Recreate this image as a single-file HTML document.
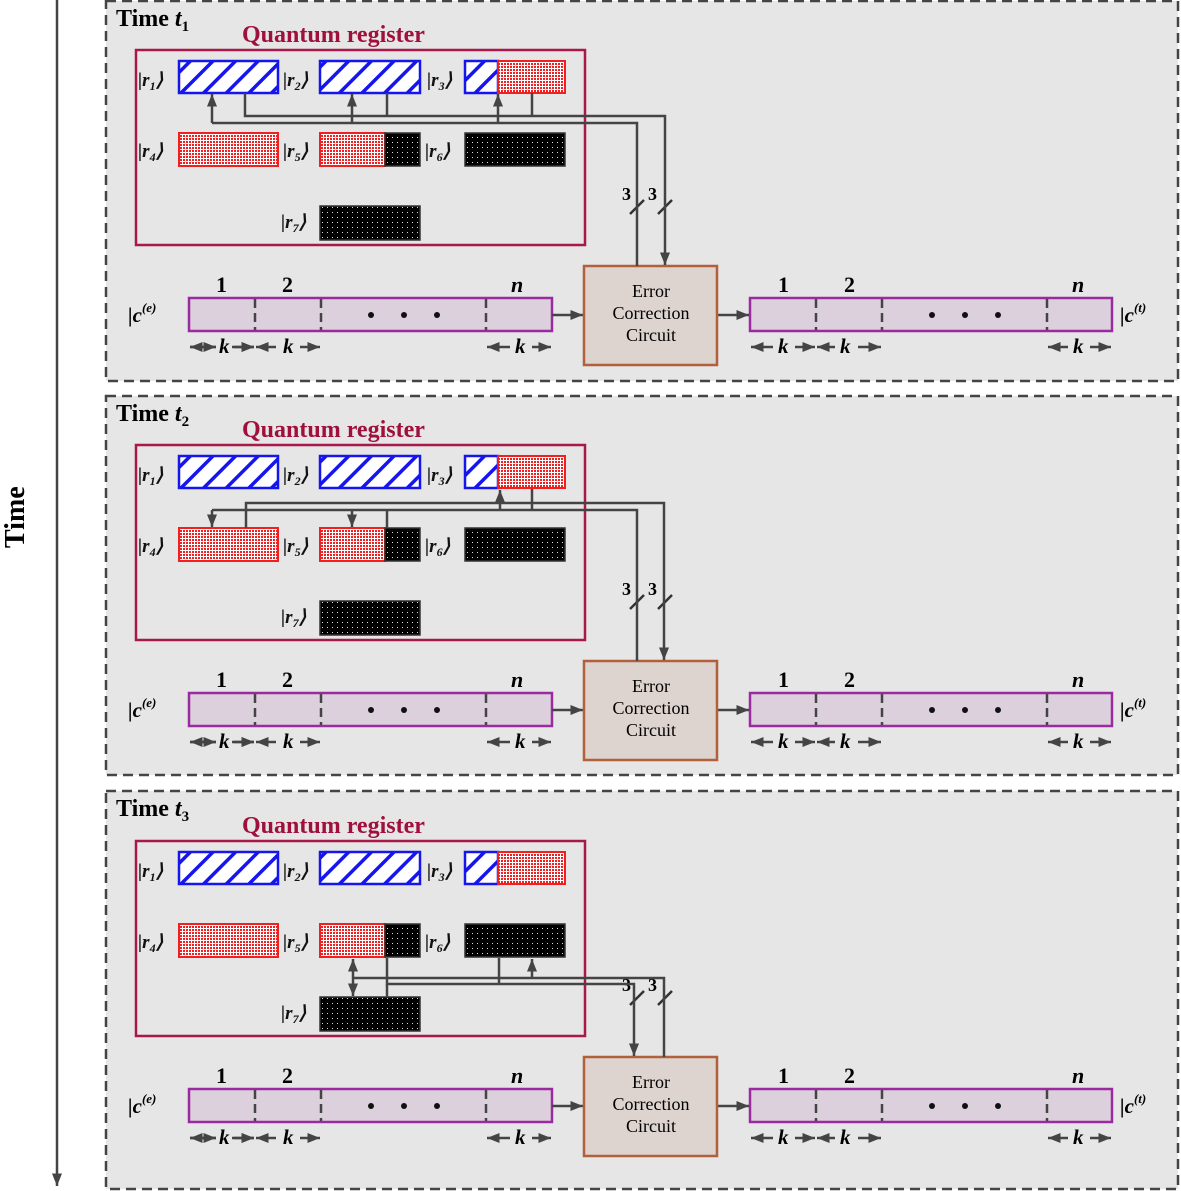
<!DOCTYPE html>
<html><head><meta charset="utf-8"><style>body{margin:0;background:#fff}svg{display:block}text{font-family:"Liberation Serif",serif;font-weight:bold}</style></head><body>
<svg width="1181" height="1191" viewBox="0 0 1181 1191" xmlns="http://www.w3.org/2000/svg">
<defs>
<pattern id="hb" width="16" height="16" patternUnits="userSpaceOnUse" patternTransform="rotate(45)"><rect width="16" height="16" fill="#fff"/><rect width="3.5" height="16" fill="#1515ee"/></pattern>
<pattern id="rg" width="3" height="3" patternUnits="userSpaceOnUse"><rect width="3" height="3" fill="#fff"/><rect width="2" height="2" fill="#f02020"/></pattern>
<pattern id="bd" width="5" height="5" patternUnits="userSpaceOnUse"><rect width="5" height="5" fill="#000"/><rect x="2" y="2" width="1" height="1" fill="#ddd"/></pattern>
<marker id="ar" viewBox="0 0 10 10" refX="10" refY="5" markerWidth="5" markerHeight="5" orient="auto-start-reverse"><path d="M0,1 L10,5 L0,9 z" fill="#444"/></marker>
<symbol id="panel" overflow="visible">
<rect x="136" y="50" width="449" height="195" fill="none" stroke="#a8184a" stroke-width="2.5"/>
<text x="242" y="42" font-size="24" fill="#a0103c">Quantum register</text>
<g font-size="19" font-style="italic" fill="#111">
<text x="138" y="86">|r<tspan font-size="12" dy="4">1</tspan><tspan dy="-4">⟩</tspan></text>
<text x="283" y="86">|r<tspan font-size="12" dy="4">2</tspan><tspan dy="-4">⟩</tspan></text>
<text x="427" y="86">|r<tspan font-size="12" dy="4">3</tspan><tspan dy="-4">⟩</tspan></text>
<text x="138" y="157">|r<tspan font-size="12" dy="4">4</tspan><tspan dy="-4">⟩</tspan></text>
<text x="283" y="157">|r<tspan font-size="12" dy="4">5</tspan><tspan dy="-4">⟩</tspan></text>
<text x="425" y="157">|r<tspan font-size="12" dy="4">6</tspan><tspan dy="-4">⟩</tspan></text>
<text x="281" y="228">|r<tspan font-size="12" dy="4">7</tspan><tspan dy="-4">⟩</tspan></text>
</g>
<rect x="179" y="61" width="99" height="32" fill="url(#hb)" stroke="#1515ee" stroke-width="2.5"/>
<rect x="320" y="61" width="100" height="32" fill="url(#hb)" stroke="#1515ee" stroke-width="2.5"/>
<rect x="465" y="61" width="33" height="32" fill="url(#hb)" stroke="#1515ee" stroke-width="2.5"/>
<rect x="498" y="61" width="67" height="32" fill="url(#rg)" stroke="#f02020" stroke-width="2"/>
<rect x="179" y="133" width="99" height="33" fill="url(#rg)" stroke="#f02020" stroke-width="2"/>
<rect x="320" y="133" width="65" height="33" fill="url(#rg)" stroke="#f02020" stroke-width="2"/>
<rect x="385" y="133" width="35" height="33" fill="url(#bd)" stroke="#333" stroke-width="1.5"/>
<rect x="465" y="133" width="100" height="33" fill="url(#bd)" stroke="#333" stroke-width="1.5"/>
<rect x="320" y="206" width="100" height="34" fill="url(#bd)" stroke="#333" stroke-width="1.5"/>
<!-- registers -->
<text x="128" y="322" font-size="21" font-style="italic">|c<tspan font-size="13" dy="-10">(e)</tspan></text>
<text x="1120" y="322" font-size="21" font-style="italic">|c<tspan font-size="13" dy="-10">(t)</tspan></text>
<rect x="189" y="298" width="363" height="33" fill="#dcd0dc" stroke="#9a2aa0" stroke-width="2.5"/>
<rect x="750" y="298" width="362" height="33" fill="#dcd0dc" stroke="#9a2aa0" stroke-width="2.5"/>
<g stroke="#444" stroke-width="2.5" stroke-dasharray="9,5">
<line x1="255" y1="299" x2="255" y2="330"/><line x1="321" y1="299" x2="321" y2="330"/><line x1="486" y1="299" x2="486" y2="330"/>
<line x1="816" y1="299" x2="816" y2="330"/><line x1="882" y1="299" x2="882" y2="330"/><line x1="1047" y1="299" x2="1047" y2="330"/>
</g>
<g fill="#111"><circle cx="371" cy="315" r="3"/><circle cx="404" cy="315" r="3"/><circle cx="437" cy="315" r="3"/><circle cx="932" cy="315" r="3"/><circle cx="965" cy="315" r="3"/><circle cx="998" cy="315" r="3"/></g>
<g font-size="22"><text x="216" y="292">1</text><text x="282" y="292">2</text><text x="511" y="292" font-style="italic">n</text>
<text x="778" y="292">1</text><text x="844" y="292">2</text><text x="1072" y="292" font-style="italic">n</text></g>
<g stroke="#444" stroke-width="2.5" marker-start="url(#ar)" marker-end="url(#ar)">
<line x1="190" y1="347" x2="216" y2="347" marker-start="none"/><line x1="232" y1="347" x2="254" y2="347" marker-start="none"/>
</g>
<g stroke="#444" stroke-width="2.5">
<line x1="216" y1="347" x2="190" y2="347" marker-end="url(#ar)"/><line x1="234" y1="347" x2="254" y2="347" marker-end="url(#ar)"/>
<line x1="276" y1="347" x2="256" y2="347" marker-end="url(#ar)"/><line x1="300" y1="347" x2="320" y2="347" marker-end="url(#ar)"/>
<line x1="510" y1="347" x2="487" y2="347" marker-end="url(#ar)"/><line x1="532" y1="347" x2="551" y2="347" marker-end="url(#ar)"/>
<line x1="773" y1="347" x2="751" y2="347" marker-end="url(#ar)"/><line x1="795" y1="347" x2="815" y2="347" marker-end="url(#ar)"/>
<line x1="835" y1="347" x2="817" y2="347" marker-end="url(#ar)"/><line x1="858" y1="347" x2="881" y2="347" marker-end="url(#ar)"/>
<line x1="1068" y1="347" x2="1048" y2="347" marker-end="url(#ar)"/><line x1="1090" y1="347" x2="1111" y2="347" marker-end="url(#ar)"/>
<line x1="552" y1="315" x2="583" y2="315" marker-end="url(#ar)"/><line x1="717" y1="315" x2="749" y2="315" marker-end="url(#ar)"/>
</g>
<g font-size="21" font-style="italic"><text x="219" y="353">k</text><text x="283" y="353">k</text><text x="515" y="353">k</text>
<text x="778" y="353">k</text><text x="840" y="353">k</text><text x="1073" y="353">k</text></g>
<rect x="584" y="266" width="133" height="99" fill="#ddd3cf" stroke="#b0603a" stroke-width="2.5"/>
<g font-size="18" font-weight="normal" text-anchor="middle" style="font-weight:normal"><text x="651" y="297" style="font-weight:normal">Error</text><text x="651" y="319" style="font-weight:normal">Correction</text><text x="651" y="341" style="font-weight:normal">Circuit</text></g>
<g font-size="18"><text x="622" y="200">3</text><text x="648" y="200">3</text></g>
<g stroke="#333" stroke-width="2.5"><line x1="630" y1="214" x2="644" y2="200"/><line x1="658" y1="214" x2="672" y2="200"/></g>
</symbol>
</defs>
<line x1="57" y1="0" x2="57" y2="1186" stroke="#444" stroke-width="2.5" marker-end="url(#ar)"/>
<text x="0" y="0" font-size="28" transform="translate(24,548) rotate(-90)">Time</text>
<rect x="106" y="1" width="1072" height="380" fill="#e6e6e6" stroke="#444" stroke-width="2.5" stroke-dasharray="10,6"/>
<rect x="106" y="396" width="1072" height="379" fill="#e6e6e6" stroke="#444" stroke-width="2.5" stroke-dasharray="10,6"/>
<rect x="106" y="791" width="1072" height="398" fill="#e6e6e6" stroke="#444" stroke-width="2.5" stroke-dasharray="10,6"/>
<text x="116" y="26" font-size="24">Time <tspan font-style="italic">t</tspan><tspan font-size="15" dy="5">1</tspan></text>
<text x="116" y="421" font-size="24">Time <tspan font-style="italic">t</tspan><tspan font-size="15" dy="5">2</tspan></text>
<text x="116" y="816" font-size="24">Time <tspan font-style="italic">t</tspan><tspan font-size="15" dy="5">3</tspan></text>
<use href="#panel" x="0" y="0"/>
<use href="#panel" x="0" y="395"/>
<use href="#panel" x="0" y="791"/>
<!-- panel 1 connectors -->
<g stroke="#444" stroke-width="2.5" fill="none">
<polyline points="245,93 245,116 665,116 665,265" marker-end="url(#ar)"/>
<line x1="387" y1="93" x2="387" y2="116"/><line x1="532" y1="93" x2="532" y2="116"/>
<polyline points="637,266 637,123 212,123"/>
<line x1="212" y1="123" x2="212" y2="94" marker-end="url(#ar)"/>
<line x1="352" y1="123" x2="352" y2="94" marker-end="url(#ar)"/>
<line x1="498" y1="123" x2="498" y2="94" marker-end="url(#ar)"/>
</g>
<!-- panel 2 connectors -->
<g stroke="#444" stroke-width="2.5" fill="none">
<polyline points="246,528 246,503 664,503 664,660" marker-end="url(#ar)"/>
<line x1="532" y1="489" x2="532" y2="510"/>
<polyline points="637,661 637,510 212,510"/>
<line x1="212" y1="510" x2="212" y2="527" marker-end="url(#ar)"/>
<line x1="352" y1="510" x2="352" y2="527" marker-end="url(#ar)"/>
<line x1="387" y1="510" x2="387" y2="528"/>
<line x1="500" y1="510" x2="500" y2="490" marker-end="url(#ar)"/>
</g>
<!-- panel 3 connectors -->
<g stroke="#444" stroke-width="2.5" fill="none">
<polyline points="664,1057 664,978 353,978"/>
<polyline points="387,958 387,984 634,984 634,1056" marker-end="url(#ar)"/>
<line x1="387" y1="984" x2="387" y2="997"/>
<line x1="499" y1="958" x2="499" y2="984"/>
<line x1="532" y1="978" x2="532" y2="959" marker-end="url(#ar)"/>
<line x1="353" y1="978" x2="353" y2="959" marker-end="url(#ar)"/>
<line x1="353" y1="978" x2="353" y2="996" marker-end="url(#ar)"/>
</g>
</svg>
</body></html>
